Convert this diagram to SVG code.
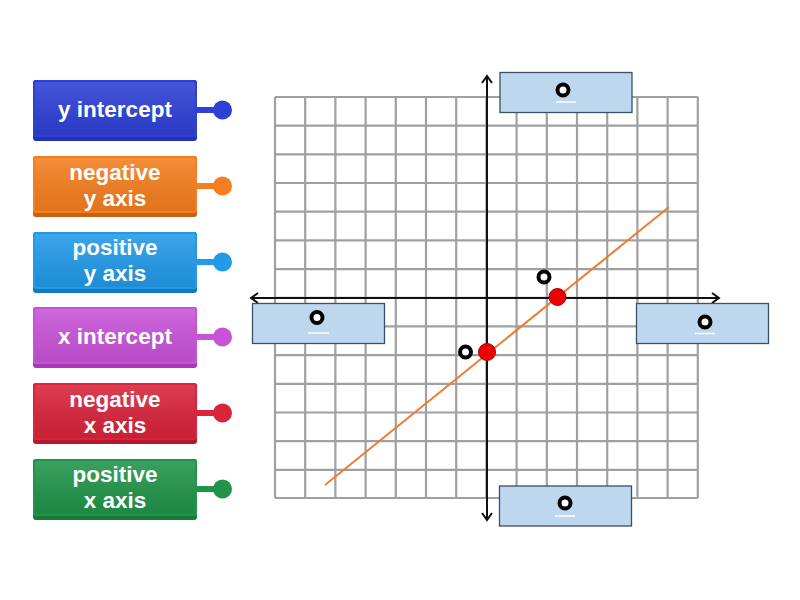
<svg xmlns="http://www.w3.org/2000/svg" width="800" height="600" viewBox="0 0 800 600">
<defs>
<style>
.btxt{font-family:"Liberation Sans",Arial,sans-serif;font-weight:bold;font-size:22.5px;fill:#ffffff;text-anchor:middle}
.grid line{stroke:#a0a0a0;stroke-width:2.2}
.ax{stroke:#111;stroke-width:2;fill:none}
.ans{fill:#bdd7ee;stroke:#3e4e63;stroke-width:1.3}
.hole{fill:#fff;stroke:#000;stroke-width:4}
.uline{stroke:#fff;stroke-width:1.5}
.red{fill:#ee0000;stroke:#a00000;stroke-width:1}
</style>
<linearGradient id="shine" x1="0" y1="0" x2="0" y2="1">
<stop offset="0" stop-color="#fff" stop-opacity="0.12"/>
<stop offset="1" stop-color="#000" stop-opacity="0.08"/>
</linearGradient>
</defs>
<rect width="800" height="600" fill="#fff"/>

<g id="grid" class="grid">
<line x1="275" y1="97" x2="275" y2="498"/><line x1="305.2" y1="97" x2="305.2" y2="498"/><line x1="335.4" y1="97" x2="335.4" y2="498"/><line x1="365.6" y1="97" x2="365.6" y2="498"/><line x1="395.8" y1="97" x2="395.8" y2="498"/><line x1="426" y1="97" x2="426" y2="498"/><line x1="456.2" y1="97" x2="456.2" y2="498"/><line x1="486.4" y1="97" x2="486.4" y2="498"/><line x1="516.6" y1="97" x2="516.6" y2="498"/><line x1="546.8" y1="97" x2="546.8" y2="498"/><line x1="577" y1="97" x2="577" y2="498"/><line x1="607.2" y1="97" x2="607.2" y2="498"/><line x1="637.4" y1="97" x2="637.4" y2="498"/><line x1="667.6" y1="97" x2="667.6" y2="498"/><line x1="697.8" y1="97" x2="697.8" y2="498"/>
<line x1="275" y1="97" x2="698" y2="97"/><line x1="275" y1="125.7" x2="698" y2="125.7"/><line x1="275" y1="154.4" x2="698" y2="154.4"/><line x1="275" y1="183" x2="698" y2="183"/><line x1="275" y1="211.7" x2="698" y2="211.7"/><line x1="275" y1="240.4" x2="698" y2="240.4"/><line x1="275" y1="269.1" x2="698" y2="269.1"/><line x1="275" y1="297.8" x2="698" y2="297.8"/><line x1="275" y1="326.4" x2="698" y2="326.4"/><line x1="275" y1="355.1" x2="698" y2="355.1"/><line x1="275" y1="383.8" x2="698" y2="383.8"/><line x1="275" y1="412.5" x2="698" y2="412.5"/><line x1="275" y1="441.2" x2="698" y2="441.2"/><line x1="275" y1="469.8" x2="698" y2="469.8"/><line x1="275" y1="498" x2="698" y2="498"/>
</g>

<g id="axes">
<line class="ax" x1="251" y1="298" x2="719" y2="298"/>
<polyline class="ax" points="258,293 251,298 258,303"/>
<polyline class="ax" points="712,293 719,298 712,303"/>
<line class="ax" x1="487" y1="76" x2="487" y2="520"/>
<polyline class="ax" points="482,83 487,76 492,83"/>
<polyline class="ax" points="482,513 487,520 492,513"/>
</g>

<g id="connectors">
<line x1="325" y1="485" x2="669" y2="207" stroke="#ed7d31" stroke-width="2"/>
</g>

<g id="points">
<circle class="red" cx="557.5" cy="297" r="8.5"/>
<circle class="red" cx="487" cy="352" r="8.5"/>
<circle class="hole" cx="544" cy="277" r="5.5"/>
<circle class="hole" cx="465.5" cy="352" r="5.5"/>
</g>

<g id="ans-top">
<rect class="ans" x="500" y="72.5" width="132" height="40"/>
<circle class="hole" cx="563" cy="90" r="5.5"/>
<line class="uline" x1="556" y1="102" x2="576" y2="102"/>
</g>
<g id="ans-left">
<rect class="ans" x="252.5" y="303.5" width="132" height="40"/>
<circle class="hole" cx="317" cy="317.5" r="5.5"/>
<line class="uline" x1="308" y1="333" x2="329" y2="333"/>
</g>
<g id="ans-right">
<rect class="ans" x="636.5" y="303.5" width="132" height="40"/>
<circle class="hole" cx="705" cy="322" r="5.5"/>
<line class="uline" x1="695" y1="333.5" x2="715" y2="333.5"/>
</g>
<g id="ans-bottom">
<rect class="ans" x="499.5" y="486" width="132" height="40"/>
<circle class="hole" cx="565" cy="503" r="5.5"/>
<line class="uline" x1="555" y1="516" x2="575" y2="516"/>
</g>

<g id="btn-y-intercept">
<rect x="33" y="80" width="164" height="61" rx="3" fill="#2432b0"/>
<rect x="33" y="80" width="164" height="57" rx="3" fill="#2e40d6"/>
<rect x="35" y="82" width="160" height="53" rx="2" fill="url(#shine)"/>
<rect x="197" y="107" width="18" height="6" fill="#2e40d6"/>
<circle cx="222.5" cy="110" r="9.5" fill="#2e40d6"/>
<text class="btxt" x="115" y="117">y intercept</text>
</g>
<g id="btn-negative-y">
<rect x="33" y="156" width="164" height="61" rx="3" fill="#c95f10"/>
<rect x="33" y="156" width="164" height="57" rx="3" fill="#f57e1e"/>
<rect x="35" y="158" width="160" height="53" rx="2" fill="url(#shine)"/>
<rect x="197" y="183" width="18" height="6" fill="#f57e1e"/>
<circle cx="222.5" cy="186" r="9.5" fill="#f57e1e"/>
<text class="btxt" x="115" y="180">negative<tspan x="115" dy="25.5">y axis</tspan></text>
</g>
<g id="btn-positive-y">
<rect x="33" y="232" width="164" height="61" rx="3" fill="#1677c0"/>
<rect x="33" y="232" width="164" height="57" rx="3" fill="#229ae8"/>
<rect x="35" y="234" width="160" height="53" rx="2" fill="url(#shine)"/>
<rect x="197" y="259" width="18" height="6" fill="#229ae8"/>
<circle cx="222.5" cy="262" r="9.5" fill="#229ae8"/>
<text class="btxt" x="115" y="255">positive<tspan x="115" dy="25.5">y axis</tspan></text>
</g>
<g id="btn-x-intercept">
<rect x="33" y="307" width="164" height="61" rx="3" fill="#a63ab5"/>
<rect x="33" y="307" width="164" height="57" rx="3" fill="#c953d8"/>
<rect x="35" y="309" width="160" height="53" rx="2" fill="url(#shine)"/>
<rect x="197" y="334" width="18" height="6" fill="#c953d8"/>
<circle cx="222.5" cy="337" r="9.5" fill="#c953d8"/>
<text class="btxt" x="115" y="344">x intercept</text>
</g>
<g id="btn-negative-x">
<rect x="33" y="383" width="164" height="61" rx="3" fill="#b01a2c"/>
<rect x="33" y="383" width="164" height="57" rx="3" fill="#d9243b"/>
<rect x="35" y="385" width="160" height="53" rx="2" fill="url(#shine)"/>
<rect x="197" y="410" width="18" height="6" fill="#d9243b"/>
<circle cx="222.5" cy="413" r="9.5" fill="#d9243b"/>
<text class="btxt" x="115" y="407">negative<tspan x="115" dy="25.5">x axis</tspan></text>
</g>
<g id="btn-positive-x">
<rect x="33" y="459" width="164" height="61" rx="3" fill="#187a3a"/>
<rect x="33" y="459" width="164" height="57" rx="3" fill="#21944a"/>
<rect x="35" y="461" width="160" height="53" rx="2" fill="url(#shine)"/>
<rect x="197" y="486" width="18" height="6" fill="#21944a"/>
<circle cx="222.5" cy="489" r="9.5" fill="#21944a"/>
<text class="btxt" x="115" y="482">positive<tspan x="115" dy="25.5">x axis</tspan></text>
</g>
</svg>
